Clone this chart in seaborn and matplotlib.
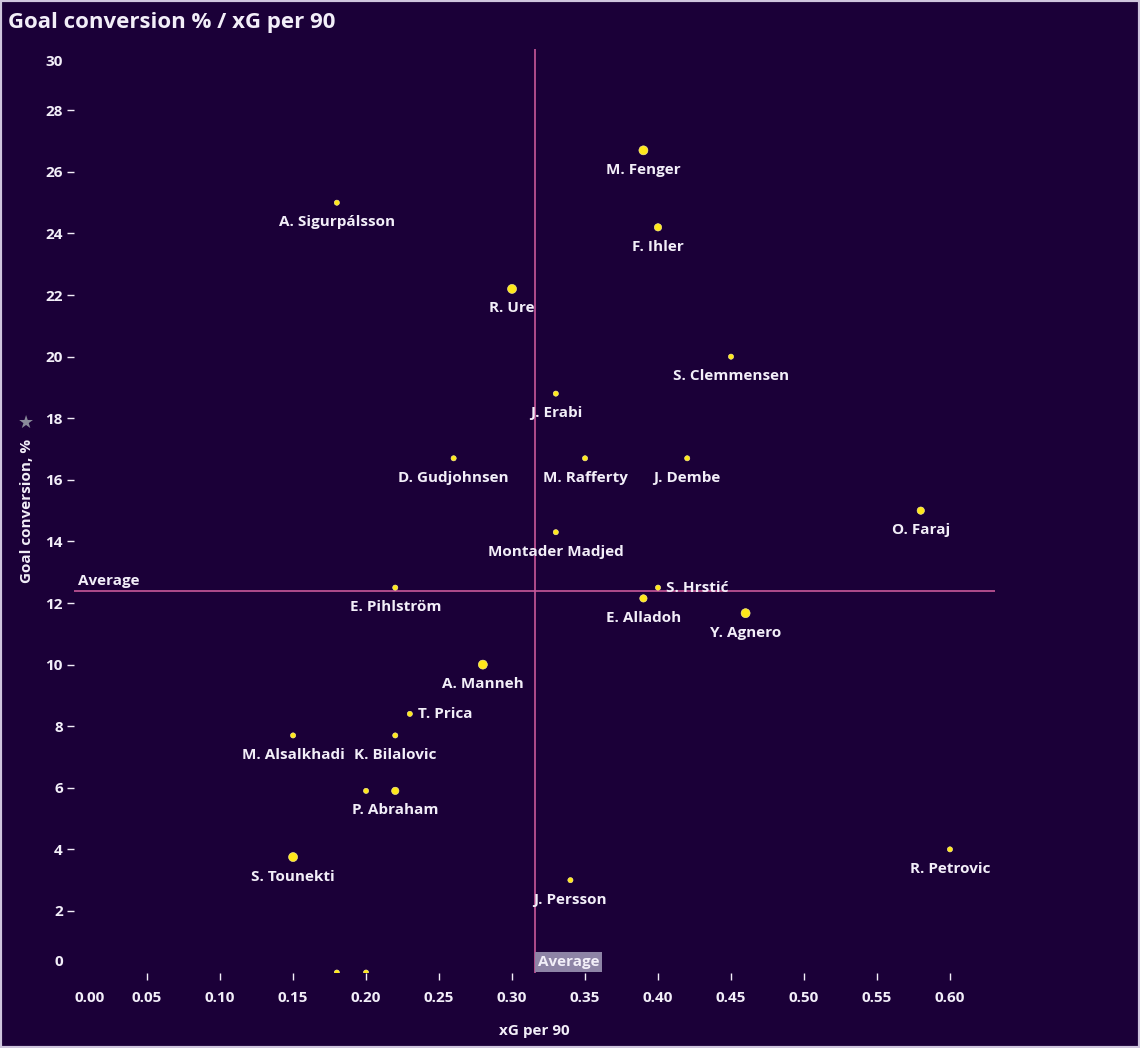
import matplotlib
matplotlib.use("Agg")
import matplotlib.pyplot as plt
import matplotlib.transforms as mtransforms
from matplotlib.patches import Rectangle
import seaborn as sns
import pandas as pd

players = ["M. Fenger", "A. Sigurpálsson", "F. Ihler", "R. Ure", "S. Clemmensen",
           "J. Erabi", "D. Gudjohnsen", "M. Rafferty", "J. Dembe", "O. Faraj",
           "Montader Madjed", "E. Pihlström", "S. Hrstić", "E. Alladoh", "Y. Agnero",
           "A. Manneh", "T. Prica", "M. Alsalkhadi", "K. Bilalovic", "", "P. Abraham",
           "S. Tounekti", "R. Petrovic", "J. Persson", "", ""]
xg_per90 = [0.39, 0.18, 0.40, 0.30, 0.45,
            0.33, 0.26, 0.35, 0.42, 0.58,
            0.33, 0.22, 0.40, 0.39, 0.46,
            0.28, 0.23, 0.15, 0.22, 0.20, 0.22,
            0.15, 0.60, 0.34, 0.18, 0.20]
conversion = [26.7, 25.0, 24.2, 22.2, 20.0,
              18.8, 16.7, 16.7, 16.7, 15.0,
              14.3, 12.5, 12.5, 12.15, 11.67,
              10.0, 8.4, 7.7, 7.7, 5.9, 5.9,
              3.75, 4.0, 3.0, 0.0, 0.0]
dot_size = [3, 1, 2, 3, 1,
            1, 1, 1, 1, 2,
            1, 1, 1, 2, 3,
            3, 1, 1, 1, 1, 2,
            3, 1, 1, 1, 1]
right_labels = ["S. Hrstić", "T. Prica"]

avg_x = 0.316
avg_y = 12.4
x_ticks = [0.0, 0.05, 0.10, 0.15, 0.20, 0.25, 0.30, 0.35, 0.40, 0.45, 0.50, 0.55, 0.60]
y_ticks = [0, 2, 4, 6, 8, 10, 12, 14, 16, 18, 20, 22, 24, 26, 28, 30]

BG = "#1b0038"
PINK = "#c8589a"
YELLOW = "#ffe81a"
WHITE = "#f2eef8"
FS = 11

sns.set_theme(style="dark")
plt.rcParams["font.family"] = ["Open Sans", "DejaVu Sans"]
plt.rcParams["font.weight"] = "bold"

df = pd.DataFrame({"player": players, "xg": xg_per90, "conv": conversion, "sz": dot_size})

fig = plt.figure(figsize=(11.4, 10.48), dpi=100, facecolor=BG)
ax = fig.add_axes([0.065, 0.072, 0.808, 0.8815])
ax.set_facecolor(BG)

sns.scatterplot(data=df, x="xg", y="conv", size="sz", sizes=(14, 42), size_norm=(1, 3),
                color=YELLOW, edgecolor="#fff59a", linewidth=0.4, legend=False, ax=ax, zorder=3)

ax.axhline(avg_y, color=PINK, lw=1.2, zorder=2)
ax.axvline(avg_x, color=PINK, lw=1.2, zorder=2)

for name, x, y in zip(players, xg_per90, conversion):
    if not name:
        continue
    if name in right_labels:
        ax.annotate(name, (x, y), xytext=(6, 0), textcoords="offset points",
                    ha="left", va="center", color=WHITE, fontsize=FS, fontweight="bold")
    else:
        ax.annotate(name, (x, y), xytext=(0, -14), textcoords="offset points",
                    ha="center", va="center", color=WHITE, fontsize=FS, fontweight="bold")

ax.text(0.003, avg_y + 0.08, "Average", color=WHITE, fontsize=FS, fontweight="bold",
        ha="left", va="bottom")
ax.text(avg_x + 0.0015, 0.12, "Average", color=WHITE, fontsize=FS, fontweight="bold",
        ha="left", va="bottom",
        bbox=dict(boxstyle="square,pad=0.18", facecolor="#8e84a6", edgecolor="none"))

ax.set_xlim(0, 0.631)
ax.set_ylim(0, 30)
ax.set_xticks(x_ticks)
ax.set_xticklabels([f"{t:.2f}" for t in x_ticks])
ax.set_yticks(y_ticks)
ax.set_yticklabels([str(t) for t in y_ticks])
ax.tick_params(axis="x", bottom=True, colors=WHITE, length=5, width=1, pad=8, labelsize=FS, direction="out")
ax.tick_params(axis="y", left=True, colors=WHITE, length=5, width=1, pad=3, labelsize=FS, direction="out")
for lab in ax.get_xticklabels() + ax.get_yticklabels():
    lab.set_fontweight("bold")
ax.grid(False)
for s in ax.spines.values():
    s.set_visible(False)

# nudge edge tick labels inward like the reference
xl = ax.get_xticklabels()
xl[0].set_transform(xl[0].get_transform() + mtransforms.ScaledTranslation(16 / 100, 0, fig.dpi_scale_trans))
yl = ax.get_yticklabels()
yl[0].set_transform(yl[0].get_transform() + mtransforms.ScaledTranslation(0, 12 / 100, fig.dpi_scale_trans))
yl[-1].set_transform(yl[-1].get_transform() + mtransforms.ScaledTranslation(0, -12 / 100, fig.dpi_scale_trans))
ytl = ax.yaxis.get_major_ticks()
ytl[0].tick1line.set_visible(False)
ytl[-1].tick1line.set_visible(False)
ax.xaxis.get_major_ticks()[0].tick1line.set_visible(False)

ax.set_xlabel("xG per 90", color=WHITE, fontsize=FS, fontweight="bold", labelpad=14)
ax.set_ylabel("Goal conversion, %", color=WHITE, fontsize=FS, fontweight="bold", labelpad=8)

fig.text(0.007, 0.979, "Goal conversion % / xG per 90", color=WHITE, fontsize=16,
         fontweight="bold", ha="left", va="center")
fig.text(0.023, 0.596, "★", color="#8a8a9a", fontsize=13, ha="center", va="center",
         family="DejaVu Sans")

fig.patches.append(Rectangle((0, 0), 1, 1, transform=fig.transFigure, fill=False,
                             edgecolor="#cfc6dd", linewidth=3))

fig.savefig("out.png", dpi=100, facecolor=BG)
